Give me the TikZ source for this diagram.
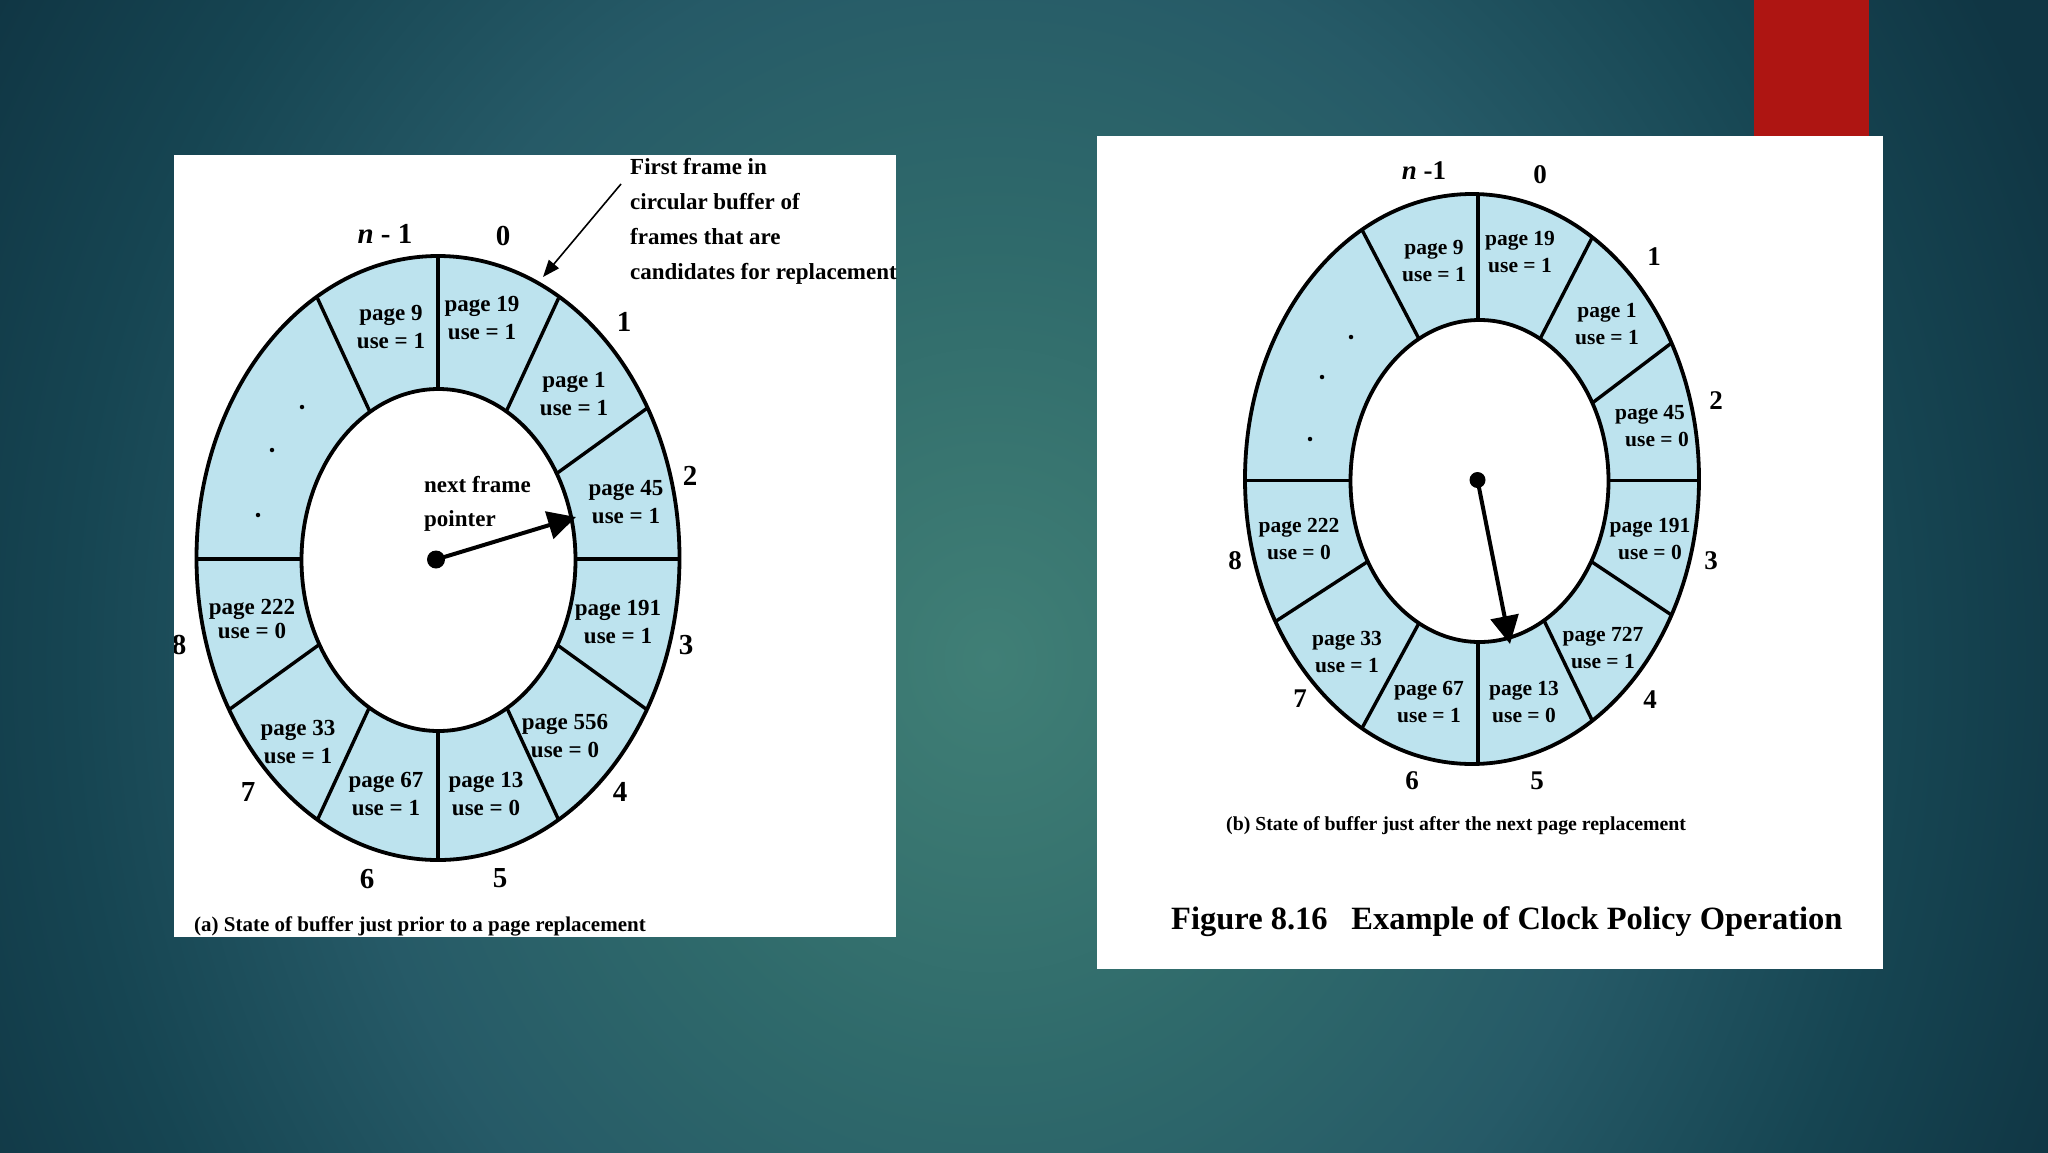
\documentclass[tikz,border=0pt]{standalone}
\usepackage{fontspec}
\setmainfont{Liberation Serif}
\usetikzlibrary{arrows.meta}
\definecolor{ringblue}{HTML}{BDE3EE}
\definecolor{slidered}{HTML}{AE1512}
\definecolor{bgcentre}{HTML}{407F76}
\definecolor{bgnear}{HTML}{387570}
\definecolor{bgmiddle}{HTML}{2F6A6B}
\definecolor{bgouter}{HTML}{265A67}
\definecolor{bgfar}{HTML}{164552}
\definecolor{bgedge}{HTML}{103644}
\pgfdeclareradialshading{slidebg}{\pgfpoint{0bp}{0bp}}{
  color(0bp)=(bgcentre);
  color(2bp)=(bgnear);
  color(4bp)=(bgmiddle);
  color(7bp)=(bgouter);
  color(10bp)=(bgfar);
  color(12.5bp)=(bgedge);
  color(50bp)=(bgedge)
}
\begin{document}
\begin{tikzpicture}[
      x=1pt,y=-1pt,
      ringline/.style={line width=3.8pt,draw=black},
      spoke/.style={line width=3.4pt,draw=black},
      pagelabel/.style={
         inner sep=0pt,
         align=center,
         font=\bfseries\fontsize{23}{28}\selectfont
      },
      pagelabelb/.style={
         inner sep=0pt,
         align=center,
         font=\bfseries\fontsize{21.5}{27}\selectfont
      },
      framenum/.style={inner sep=0pt,font=\bfseries\fontsize{29}{30}\selectfont},
      framenumb/.style={inner sep=0pt,font=\bfseries\fontsize{27}{30}\selectfont},
      pivot/.style={circle,fill=black,inner sep=0pt,minimum size=#1},
      gapdot/.style={circle,fill=black,inner sep=0pt,minimum size=4.5pt},
      pointer/.style={line width=4pt,-{Triangle[length=28pt,width=28pt]}},
      firstarrow/.style={line width=1.6pt,-{Triangle[length=17pt,width=13pt]}},
      note/.style={inner sep=0pt,align=left,font=\bfseries\fontsize{23}{35}\selectfont}
    ]
    \useasboundingbox (0,0) rectangle (2048,1152);
    % slide
    \fill[bgedge] (0,0) rectangle (2048,1152);
    \begin{scope}
      \clip (0,0) rectangle (2048,1152);
      \shade[shading=slidebg] (990,660) ellipse [x radius=2300, y radius=2600];
    \end{scope}
    \fill[slidered] (1754,0) rectangle (1869,140);

    % panel (a)
    \fill[white] (174,155) rectangle (896,937);
    \begin{scope}
      \clip (174,155) rectangle (896,937);
      \draw[ringline,fill=ringblue] (438,558) ellipse [x radius=241.5, y radius=302];
      \draw[ringline,fill=white] (438.5,560) ellipse [x radius=137, y radius=171];
      \begin{scope}[shift={(438,559)}]
        \foreach \ang in {0,30,60,90,120,150,180,240,270,300,330}
          \draw[spoke] (\ang:137 and 171) -- (\ang:241 and 301);
      \end{scope}
      \foreach \name/\px/\py/\txt in {
          a9/391/327/{page 9\\use = 1},
          a19/482/318/{page 19\\use = 1},
          a1/574/394/{page 1\\use = 1},
          a45/626/502/{page 45\\use = 1},
          a191/618/622/{page 191\\use = 1},
          a556/565/736/{page 556\\use = 0},
          a13/486/794/{page 13\\use = 0},
          a67/386/794/{page 67\\use = 1},
          a33/298/742/{page 33\\use = 1},
          a222/252/619/{page 222\\[-4pt]use = 0}}
        \node (\name) [pagelabel] at (\px,\py) {\txt};
      \foreach \name/\px/\py/\txt in {
          na0/503/236/0,na1/624/322/1,na2/690/476/2,na3/686/645/3,na4/620/792/4,
          na5/500/878/5,na6/367/879/6,na7/248/792/7,na8/179/645/8}
        \node (\name) [framenum] at (\px,\py) {\txt};
      \node (nan) [framenum] at (385,234) {\textit{n} - 1};
      \node (ad1) [gapdot] at (302,407) {};
      \node (ad2) [gapdot] at (272,450) {};
      \node (ad3) [gapdot] at (258,515) {};
      \node (firstnote) [note,anchor=west] at (630,221) {First frame in\\circular buffer of\\frames that are\\candidates for replacement};
      \node (nextnote) [note,anchor=west,font=\bfseries\fontsize{23}{33.5}\selectfont] at (424,504) {next frame\\pointer};
      \node (capa) [inner sep=0pt,font=\bfseries\fontsize{21}{24}\selectfont,anchor=west] at (194,926) {(a) State of buffer just prior to a page replacement};
    \end{scope}
    \coordinate (firststart) at (621,184);
    \coordinate (firstend) at (543,277);
    \draw[firstarrow] (firststart) -- (firstend);
    \node (pa) [pivot=18pt] at (436,559.5) {};
    \coordinate (pahead) at (576,517);
    \draw[pointer] (pa.center) -- (pahead);

    % panel (b)
    \fill[white] (1097,136) rectangle (1883,969);
    \draw[ringline,fill=ringblue] (1472,479) ellipse [x radius=227, y radius=285];
    \draw[ringline,fill=white] (1479.5,481) ellipse [x radius=129, y radius=161];
    \foreach \angin/\angout in {30/28.5,60/58,118/119,150/150,242/241,298/302,331/331.5} {
      \path (1479.5,481) ++(\angin:129 and 161) coordinate (sin);
      \path (1472,479) ++(\angout:227 and 285) coordinate (sout);
      \draw[spoke] (sin) -- (sout);
    }
    \draw[spoke] (1478,194) -- (1478,320);
    \draw[spoke] (1478,642) -- (1478,764);
    \draw[spoke] (1245,480.5) -- (1351,480.5);
    \draw[spoke] (1608,480.5) -- (1699,480.5);
    \foreach \name/\px/\py/\txt in {
        b9/1434/261/{page 9\\use = 1},
        b19/1520/252/{page 19\\use = 1},
        b1/1607/324/{page 1\\use = 1},
        b45/1650/426/{page 45\\\hspace*{14pt}use = 0},
        b191/1650/539/{page 191\\use = 0},
        b727/1603/648/{page 727\\use = 1},
        b13/1524/702/{page 13\\use = 0},
        b67/1429/702/{page 67\\use = 1},
        b33/1347/652/{page 33\\use = 1},
        b222/1299/539/{page 222\\use = 0}}
      \node (\name) [pagelabelb] at (\px,\py) {\txt};
    \foreach \name/\px/\py/\txt in {
        nb0/1540/175/0,nb1/1654/257/1,nb2/1716/401/2,nb3/1711/561/3,nb4/1650/700/4,
        nb5/1537/781/5,nb6/1412/781/6,nb7/1300/699/7,nb8/1235/561/8}
      \node (\name) [framenumb] at (\px,\py) {\txt};
    \node (nbn) [framenumb] at (1424,171) {\textit{n} -1};
    \node (bd1) [gapdot] at (1351,337) {};
    \node (bd2) [gapdot] at (1322,377) {};
    \node (bd3) [gapdot] at (1310,439) {};
    \node (pb) [pivot=16pt] at (1477.5,480) {};
    \coordinate (pbhead) at (1510,644);
    \draw[pointer] (pb.center) -- (pbhead);
    \node (capb) [inner sep=0pt,font=\bfseries\fontsize{19.8}{24}\selectfont,anchor=west] at (1226,826) {(b) State of buffer just after the next page replacement};
    \node (figtitle) [inner sep=0pt,font=\bfseries\fontsize{32.5}{40}\selectfont,anchor=west] at (1171,922) {Figure 8.16\hspace{0.73em}Example of Clock Policy Operation};
\end{tikzpicture}
\end{document}
